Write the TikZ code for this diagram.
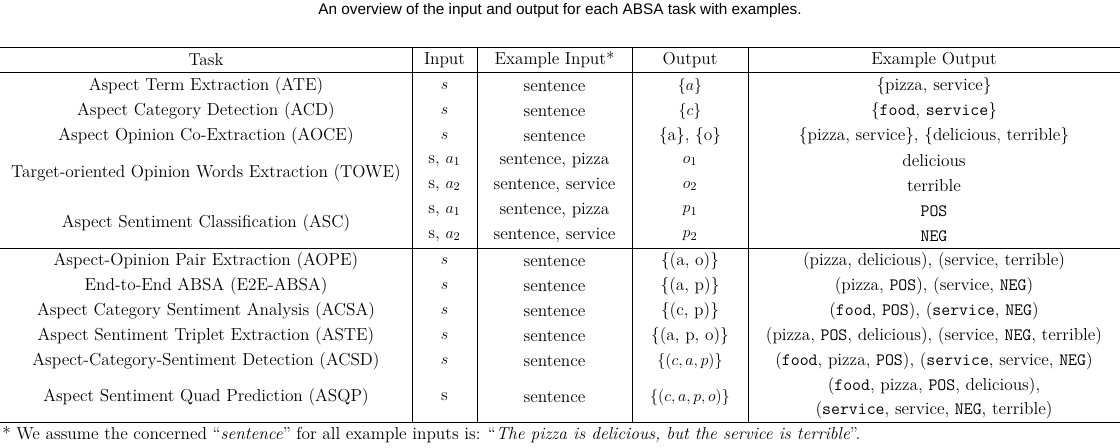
\documentclass[tikz,border=0pt]{standalone}
\usepackage{fontspec}
\newfontfamily\titlefont{Liberation Sans}
\begin{document}
\begin{tikzpicture}[x=0.75pt,y=-0.75pt,
  cell/.style={inner sep=0pt,anchor=center,font=\fontsize{13}{15}\selectfont},
  rulel/.style={line width=0.6pt},
  vline/.style={line width=0.5pt}]
\useasboundingbox (0,0) rectangle (1120,447);
\node[inner sep=0pt,font=\titlefont\fontsize{11.5}{13}\selectfont] (title) at (560,11) {An overview of the input and output for each ABSA task with examples.};
\coordinate (tl) at (0,47); \coordinate (tr) at (1120,47);
\draw[rulel] (tl) -- (tr);
\draw[vline] (0,72) -- (1120,72);
\draw[rulel] (0,248) -- (1120,248);
\draw[rulel] (0,422) -- (1120,422);
\foreach \x in {412,477,632,748} \draw[vline] (\x,47) -- (\x,422);
\newcommand\tabrow[7]{%
 \node[cell] (#2a) at (206,#1) {#3};
 \node[cell] (#2b) at (444.5,#1) {#4};
 \node[cell] (#2c) at (554.5,#1) {#5};
 \node[cell] (#2d) at (690,#1) {#6};
 \node[cell] (#2e) at (934,#1) {#7};}
\tabrow{60}{h}{Task}{Input}{Example Input*}{Output}{Example Output}
\tabrow{86}{r1}{Aspect Term Extraction (ATE)}{$s$}{sentence}{$\{a\}$}{\{pizza, service\}}
\tabrow{111}{r2}{Aspect Category Detection (ACD)}{$s$}{sentence}{$\{c\}$}{\{\texttt{food}, \texttt{service}\}}
\tabrow{136}{r3}{Aspect Opinion Co-Extraction (AOCE)}{$s$}{sentence}{\{a\}, \{o\}}{\{pizza, service\}, \{delicious, terrible\}}
\node[cell] (r4a) at (206,173) {Target-oriented Opinion Words Extraction (TOWE)};
\node[cell] (r4b) at (444.5,161) {s, $a_1$};
\node[cell] (r4c) at (554.5,161) {sentence, pizza};
\node[cell] (r4d) at (690,161) {$o_1$};
\node[cell] (r4e) at (934,161) {delicious};
\node[cell] (r5b) at (444.5,186) {s, $a_2$};
\node[cell] (r5c) at (554.5,186) {sentence, service};
\node[cell] (r5d) at (690,186) {$o_2$};
\node[cell] (r5e) at (934,186) {terrible};
\node[cell] (r6a) at (206,223) {Aspect Sentiment Classification (ASC)};
\node[cell] (r6b) at (444.5,211) {s, $a_1$};
\node[cell] (r6c) at (554.5,211) {sentence, pizza};
\node[cell] (r6d) at (690,211) {$p_1$};
\node[cell] (r6e) at (934,211) {\texttt{POS}};
\node[cell] (r7b) at (444.5,236) {s, $a_2$};
\node[cell] (r7c) at (554.5,236) {sentence, service};
\node[cell] (r7d) at (690,236) {$p_2$};
\node[cell] (r7e) at (934,236) {\texttt{NEG}};
\tabrow{261}{r8}{Aspect-Opinion Pair Extraction (AOPE)}{$s$}{sentence}{\{(a, o)\}}{(pizza, delicious), (service, terrible)}
\tabrow{286}{r9}{End-to-End ABSA (E2E-ABSA)}{$s$}{sentence}{\{(a, p)\}}{(pizza, \texttt{POS}), (service, \texttt{NEG})}
\tabrow{311}{r10}{Aspect Category Sentiment Analysis (ACSA)}{$s$}{sentence}{\{(c, p)\}}{(\texttt{food}, \texttt{POS}), (\texttt{service}, \texttt{NEG})}
\tabrow{336}{r11}{Aspect Sentiment Triplet Extraction (ASTE)}{$s$}{sentence}{\{(a, p, o)\}}{(pizza, \texttt{POS}, delicious), (service, \texttt{NEG}, terrible)}
\tabrow{361}{r12}{Aspect-Category-Sentiment Detection (ACSD)}{$s$}{sentence}{$\{(c,a,p)\}$}{(\texttt{food}, pizza, \texttt{POS}), (\texttt{service}, service, \texttt{NEG})}
\tabrow{397}{r13}{Aspect Sentiment Quad Prediction (ASQP)}{s}{sentence}{$\{(c,a,p,o)\}$}{}
\node[cell] (r13e1) at (934,386) {(\texttt{food}, pizza, \texttt{POS}, delicious),};
\node[cell] (r13e2) at (934,410) {(\texttt{service}, service, \texttt{NEG}, terrible)};
\node[cell,anchor=west] (foot) at (2,435) {* We assume the concerned ``\emph{sentence}'' for all example inputs is: ``\emph{The pizza is delicious, but the service is terrible}''.};
\end{tikzpicture}
\end{document}
